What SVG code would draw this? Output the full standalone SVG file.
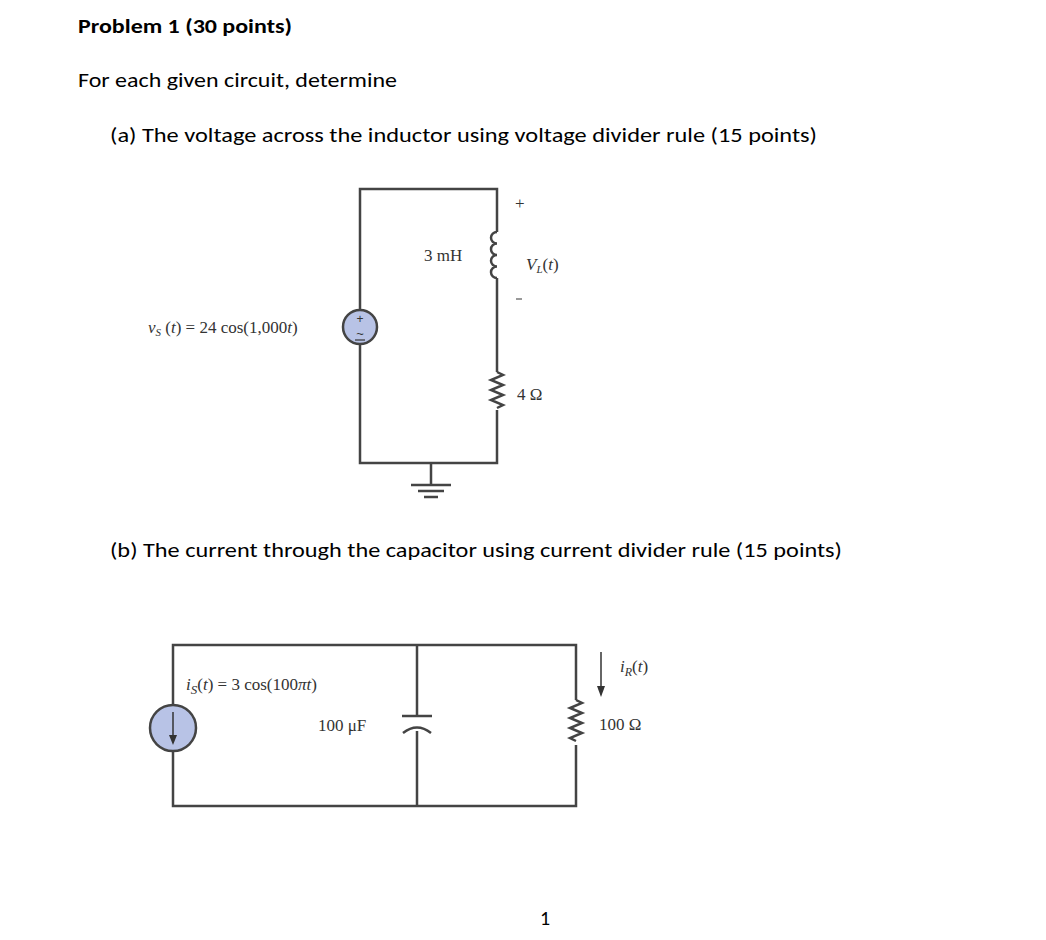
<svg xmlns="http://www.w3.org/2000/svg" width="1046" height="940" viewBox="0 0 1046 940">
<style>
.h{font-family:Calibri,Carlito,"Liberation Sans",sans-serif;fill:#000}
.c{font-family:"Liberation Serif",serif;fill:#333;font-size:17px}
.w{fill:none;stroke:#444;stroke-width:2.5}
.src{fill:#b8c3e6;stroke:#444;stroke-width:2.5}
</style>
<rect width="1046" height="940" fill="#fff"/>
<text class="h" x="78" y="33" font-size="21" font-weight="bold" textLength="214" lengthAdjust="spacingAndGlyphs">Problem 1 (30 points)</text>
<text class="h" x="78" y="87" font-size="21" textLength="319" lengthAdjust="spacingAndGlyphs">For each given circuit, determine</text>
<text class="h" x="110" y="142" font-size="21" textLength="707" lengthAdjust="spacingAndGlyphs">(a) The voltage across the inductor using voltage divider rule (15 points)</text>
<text class="h" x="110" y="557" font-size="21" textLength="732" lengthAdjust="spacingAndGlyphs">(b) The current through the capacitor using current divider rule (15 points)</text>
<text class="h" x="540" y="925" font-size="20">1</text>
<g id="connectors">
<path class="w" d="M360 310 V189 H497 V232 M497 278 V372 M497 410 V463 H360 V344 M431 463 V485"/>
<path class="w" d="M173 705 V645 H576 V700 M576 745 V806 H173 V751 M417 645 V716 M417 731 V806"/>
</g>
<g id="source-a"><circle class="src" cx="360" cy="327" r="17"/>
<text x="360" y="323" text-anchor="middle" font-family="Liberation Sans,sans-serif" font-size="12" fill="#333">+</text>
<text x="360" y="338" text-anchor="middle" font-family="Liberation Sans,sans-serif" font-size="13" fill="#333">~</text>
<line x1="355" y1="340" x2="365" y2="340" stroke="#333" stroke-width="1.2"/>
<text class="c" x="148" y="333" font-style="italic" font-size="16">v<tspan font-size="11" dy="3">S</tspan><tspan dy="-3" font-style="normal"> (</tspan>t<tspan font-style="normal">) = 24 cos(1,000</tspan>t<tspan font-style="normal">)</tspan></text></g>
<g id="inductor"><path class="w" d="M497 232 a6 5.75 0 1 0 0 11.5 a6 5.75 0 1 0 0 11.5 a6 5.75 0 1 0 0 11.5 a6 5.75 0 1 0 0 11.5"/>
<text class="c" x="424" y="261" font-size="17">3 mH</text>
<text class="c" x="515" y="209" font-size="13">+</text>
<text class="c" x="526" y="270" font-size="16" font-style="italic">V<tspan font-size="11" dy="3">L</tspan><tspan dy="-3" font-style="normal">(</tspan>t<tspan font-style="normal">)</tspan></text>
<line x1="516" y1="299" x2="522" y2="299" stroke="#555" stroke-width="1.2"/></g>
<g id="resistor-a"><path class="w" d="M497 372 l6 3 l-12 5 l12 5 l-12 5 l12 5 l-12 5 l12 5 l-6 3"/>
<text class="c" x="517" y="400" font-size="17">4 Ω</text></g>
<g id="ground"><path class="w" d="M411 485 H451 M418 491 H444 M424 497 H438"/></g>
<g id="source-b"><circle class="src" cx="173" cy="728" r="23"/>
<path d="M173 712 V742" stroke="#333" stroke-width="1.5"/><path d="M169 735 L173 745 L177 735 Z" fill="#333"/>
<text class="c" x="186" y="690" font-size="20" font-style="italic">i<tspan font-size="13" dy="4">S</tspan><tspan dy="-4" font-style="normal">(</tspan>t<tspan font-style="normal">) = 3 cos(100</tspan>πt<tspan font-style="normal">)</tspan></text></g>
<g id="capacitor"><path class="w" d="M402 716 H432 M403 733 Q417 722 431 733"/>
<text class="c" x="318" y="731" font-size="20">100 μF</text></g>
<g id="resistor-b"><path class="w" d="M576 700 l6 3 l-12 5 l12 5 l-12 5 l12 5 l-12 5 l12 5 l-12 5 l6 3"/>
<path d="M601 652 V690" stroke="#333" stroke-width="1.5"/><path d="M597 686 L601 697 L605 686 Z" fill="#333"/>
<text class="c" x="620" y="672" font-size="18" font-style="italic">i<tspan font-size="12" dy="4">R</tspan><tspan dy="-4" font-style="normal">(</tspan>t<tspan font-style="normal">)</tspan></text>
<text class="c" x="599" y="730" font-size="20">100 Ω</text></g>
</svg>
